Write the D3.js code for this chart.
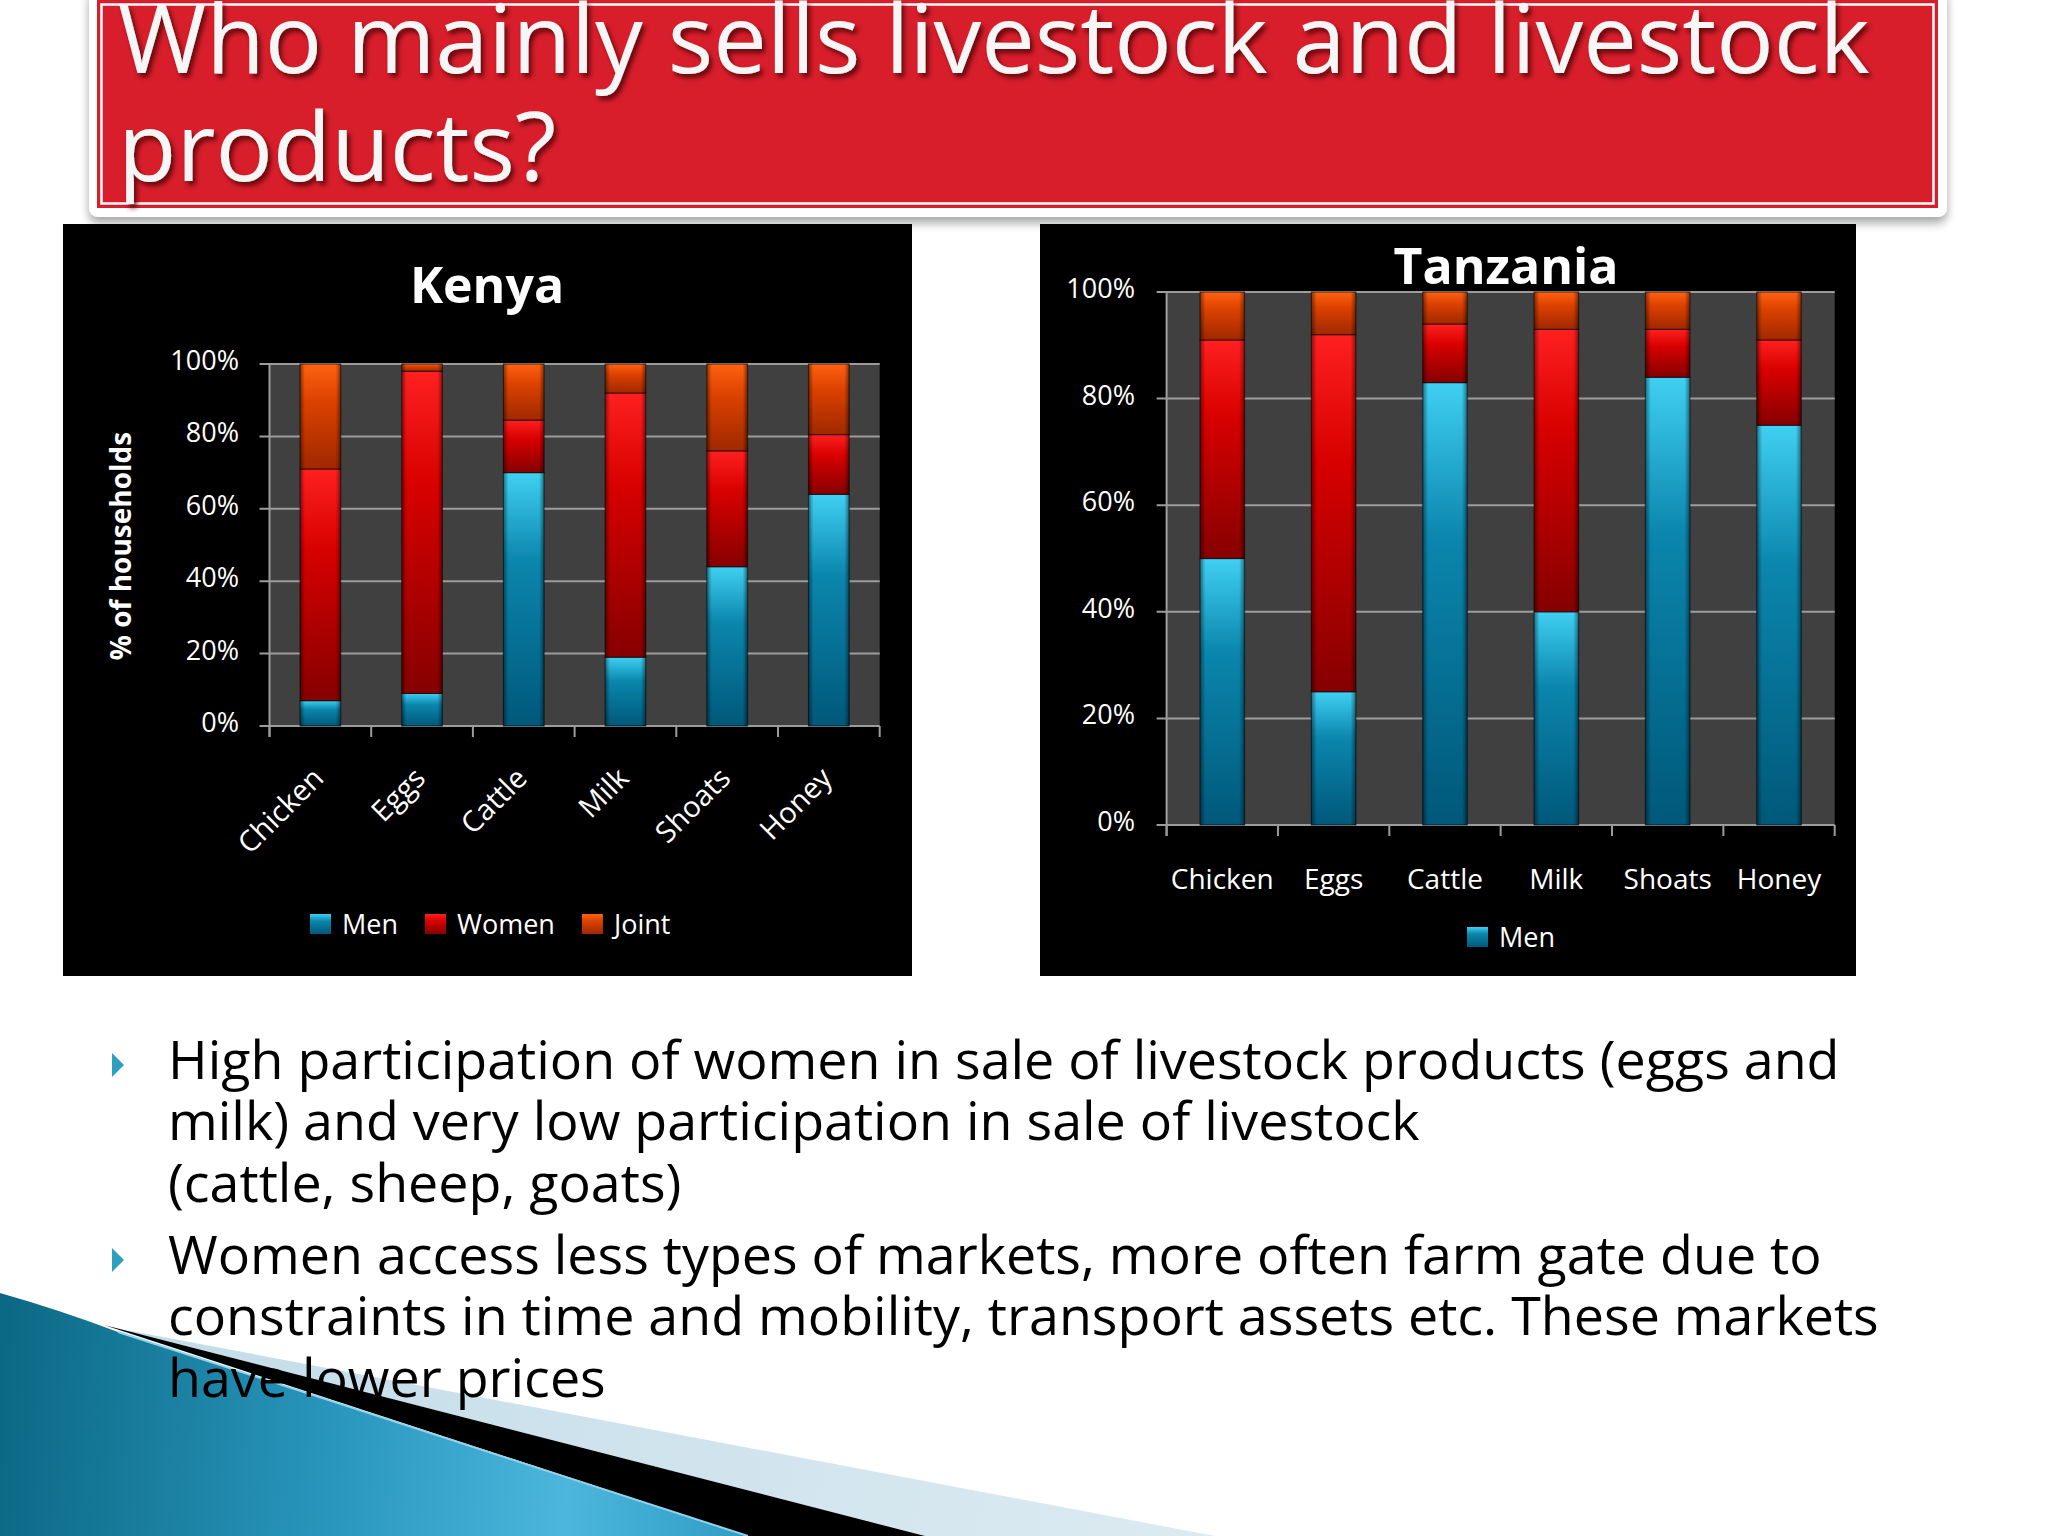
<!DOCTYPE html>
<html>
<head>
<meta charset="utf-8">
<script src="https://cdn.jsdelivr.net/npm/d3@7"></script>
<style>
  html, body { margin: 0; padding: 0; background: #ffffff; }
  svg { display: block; }
</style>
</head>
<body>
<div id="chart"></div>
<script>
// ---------------- DATA ----------------
const categories = ["Chicken", "Eggs", "Cattle", "Milk", "Shoats", "Honey"];
const seriesNames = ["Men", "Women", "Joint"];

const kenyaMen   = [7, 9, 70, 19, 44, 64];
const kenyaWomen = [64, 89, 14.5, 73, 32, 16.5];
const kenyaJoint = [29, 2, 15.5, 8, 24, 19.5];

const tanzaniaMen   = [50, 25, 83, 40, 84, 75];
const tanzaniaWomen = [41, 67, 11, 53, 9, 16];
const tanzaniaJoint = [9, 8, 6, 7, 7, 9];

const yTickValues = [0, 20, 40, 60, 80, 100];
const yTickLabels = ["0%", "20%", "40%", "60%", "80%", "100%"];

const slideTitle = ["Who mainly sells livestock and livestock", "products?"];
const bullet1 = ["High participation of women in sale of livestock products (eggs and",
                 "milk) and very low participation in sale of livestock",
                 "(cattle, sheep, goats)"];
const bullet2 = ["Women access less types of markets, more often farm gate due to",
                 "constraints in time and mobility, transport assets etc. These markets",
                 "have lower prices"];

// ---------------- SETUP ----------------
const W = 2048, H = 1536;
const FONT = "'Open Sans', 'DejaVu Sans', sans-serif";
const svg = d3.select("#chart").append("svg").attr("width", W).attr("height", H);
const defs = svg.append("defs");

svg.append("rect").attr("width", W).attr("height", H).attr("fill", "#ffffff");

// gradients for series
const seriesColors = {
  Men:   ["#3fd0f2", "#0b86ad", "#00587a"],
  Women: ["#ff2020", "#d80000", "#860000"],
  Joint: ["#ff6212", "#dd4200", "#a02800"]
};
seriesNames.forEach(s => {
  const g = defs.append("linearGradient").attr("id", "grad-" + s)
    .attr("x1", 0).attr("y1", 0).attr("x2", 0).attr("y2", 1);
  g.append("stop").attr("offset", "0%").attr("stop-color", seriesColors[s][0]);
  g.append("stop").attr("offset", "35%").attr("stop-color", seriesColors[s][1]);
  g.append("stop").attr("offset", "100%").attr("stop-color", seriesColors[s][2]);
});
const edge = defs.append("linearGradient").attr("id", "edgeShade")
  .attr("x1", 0).attr("y1", 0).attr("x2", 1).attr("y2", 0);
[[0, 0.45], [0.12, 0], [0.88, 0], [1, 0.45]].forEach(([o, a]) =>
  edge.append("stop").attr("offset", o).attr("stop-color", "#000").attr("stop-opacity", a));

const textShadow = defs.append("filter").attr("id", "textShadow")
  .attr("x", "-10%").attr("y", "-20%").attr("width", "120%").attr("height", "150%");
textShadow.append("feDropShadow").attr("dx", 3).attr("dy", 4).attr("stdDeviation", 2.5)
  .attr("flood-color", "#3a0000").attr("flood-opacity", 0.75);

const cardShadow = defs.append("filter").attr("id", "cardShadow")
  .attr("x", "-5%").attr("y", "-10%").attr("width", "110%").attr("height", "130%");
cardShadow.append("feDropShadow").attr("dx", 0).attr("dy", 6).attr("stdDeviation", 5)
  .attr("flood-color", "#000").attr("flood-opacity", 0.35);

// ---------------- BOTTOM DECORATION ----------------
const tealGrad = defs.append("linearGradient").attr("id", "tealGrad")
  .attr("gradientUnits", "userSpaceOnUse").attr("x1", 0).attr("y1", 1400).attr("x2", 760).attr("y2", 1450);
tealGrad.append("stop").attr("offset", "0%").attr("stop-color", "#0c6985");
tealGrad.append("stop").attr("offset", "45%").attr("stop-color", "#2a97be");
tealGrad.append("stop").attr("offset", "75%").attr("stop-color", "#4cb6dc");
tealGrad.append("stop").attr("offset", "100%").attr("stop-color", "#2f9cc4");
const paleGrad = defs.append("linearGradient").attr("id", "paleGrad")
  .attr("gradientUnits", "userSpaceOnUse").attr("x1", 150).attr("y1", 1340).attr("x2", 1200).attr("y2", 1536);
paleGrad.append("stop").attr("offset", "0%").attr("stop-color", "#c3dde9");
paleGrad.append("stop").attr("offset", "100%").attr("stop-color", "#dceaf1");

const deco = svg.append("g");
deco.append("path").attr("d", "M110,1327 L1215,1536 L925,1536 Z").attr("fill", "url(#paleGrad)");
deco.append("path").attr("d", "M104,1325 L925,1536 L748,1536 Z").attr("fill", "#000");
deco.append("path").attr("d", "M0,1293 Q60,1310 118,1332 L748,1536 L0,1536 Z").attr("fill", "url(#tealGrad)");
deco.append("path").attr("d", "M118,1332 L748,1536").attr("stroke", "#8fd3ec").attr("stroke-width", 2).attr("fill", "none");

// ---------------- TITLE CARD ----------------
svg.append("rect").attr("x", 89).attr("y", -12).attr("width", 1858).attr("height", 229)
  .attr("rx", 9).attr("fill", "#ffffff").attr("filter", "url(#cardShadow)");
svg.append("rect").attr("x", 97).attr("y", 0).attr("width", 1841).attr("height", 208)
  .attr("fill", "#d91e2b");
svg.append("rect").attr("x", 101.5).attr("y", 4.5).attr("width", 1832).attr("height", 199)
  .attr("fill", "none").attr("stroke", "#ffffff").attr("stroke-width", 2.5);

const titleG = svg.append("g").attr("filter", "url(#textShadow)");
const titleTexts = titleG.selectAll("text").data(slideTitle).join("text")
  .attr("x", 118).attr("y", (d, i) => 73 + i * 108)
  .attr("font-family", FONT).attr("font-size", 92)
  .attr("fill", "#f6f6f6").text(d => d);
{
  const w0 = titleTexts.nodes()[0].getComputedTextLength();
  const fs = 92 * 1752 / w0;
  titleTexts.attr("font-size", fs);
}

// ---------------- CHART FUNCTION ----------------
function drawChart(cfg) {
  const g = svg.append("g");
  g.append("rect").attr("x", cfg.panel[0]).attr("y", cfg.panel[1])
    .attr("width", cfg.panel[2]).attr("height", cfg.panel[3]).attr("fill", "#000");

  const rows = categories.map((c, i) => ({ cat: c, Men: cfg.men[i], Women: cfg.women[i], Joint: cfg.joint[i] }));
  const stacked = d3.stack().keys(seriesNames)(rows);

  const x = d3.scaleBand().domain(categories).range([cfg.x0, cfg.x1]).padding(0);
  const y = d3.scaleLinear().domain([0, 100]).range([cfg.yBottom, cfg.yTop]);
  const bw = x.bandwidth() * cfg.barFrac;

  // plot background
  g.append("rect").attr("x", cfg.x0).attr("y", y(100))
    .attr("width", cfg.x1 - cfg.x0).attr("height", y(0) - y(100)).attr("fill", "#404040");

  // gridlines
  g.selectAll("line.grid").data(yTickValues).join("line")
    .attr("x1", cfg.x0 - 10).attr("x2", cfg.x1)
    .attr("y1", d => y(d)).attr("y2", d => y(d))
    .attr("stroke", "#9c9c9c").attr("stroke-width", 2);

  // y axis line
  g.append("line").attr("x1", cfg.x0).attr("x2", cfg.x0)
    .attr("y1", y(100)).attr("y2", y(0) + 11).attr("stroke", "#9c9c9c").attr("stroke-width", 2);
  // x ticks at band boundaries
  const bounds = categories.map(c => x(c)).concat([cfg.x1]);
  g.selectAll("line.xt").data(bounds).join("line")
    .attr("x1", d => d).attr("x2", d => d)
    .attr("y1", y(0)).attr("y2", y(0) + 11)
    .attr("stroke", "#9c9c9c").attr("stroke-width", 2);

  // y tick labels
  g.selectAll("text.yl").data(yTickValues).join("text")
    .attr("x", cfg.yLabelX).attr("y", d => y(d)).attr("dy", "0.22em")
    .attr("text-anchor", "end").attr("fill", "#ffffff")
    .attr("font-family", FONT).attr("font-size", 27)
    .text((d, i) => yTickLabels[i]);

  // bars
  stacked.forEach(layer => {
    const s = layer.key;
    const lg = g.append("g");
    lg.selectAll("rect.bar").data(layer).join("rect")
      .attr("x", d => x(d.data.cat) + (x.bandwidth() - bw) / 2)
      .attr("y", d => y(d[1]))
      .attr("width", bw)
      .attr("height", d => Math.max(0, y(d[0]) - y(d[1])))
      .attr("fill", "url(#grad-" + s + ")")
      .attr("stroke", "rgba(0,0,0,0.55)").attr("stroke-width", 1.2);
    lg.selectAll("rect.shade").data(layer).join("rect")
      .attr("x", d => x(d.data.cat) + (x.bandwidth() - bw) / 2)
      .attr("y", d => y(d[1]))
      .attr("width", bw)
      .attr("height", d => Math.max(0, y(d[0]) - y(d[1])))
      .attr("fill", "url(#edgeShade)");
  });

  // x labels
  if (cfg.rotateLabels) {
    g.selectAll("text.xl").data(categories).join("text")
      .attr("transform", d => `translate(${x(d) + x.bandwidth() / 2 + 5},${y(0) + 54}) rotate(-45)`)
      .attr("text-anchor", "end").attr("fill", "#ffffff")
      .attr("font-family", FONT).attr("font-size", 29).text(d => d);
  } else {
    g.selectAll("text.xl").data(categories).join("text")
      .attr("x", d => x(d) + x.bandwidth() / 2).attr("y", cfg.xLabelY)
      .attr("text-anchor", "middle").attr("fill", "#ffffff")
      .attr("font-family", FONT).attr("font-size", 28).text(d => d);
  }

  // title
  g.append("text").attr("x", cfg.titlePos[0]).attr("y", cfg.titlePos[1])
    .attr("text-anchor", "middle").attr("fill", "#ffffff")
    .attr("font-family", FONT).attr("font-weight", 700).attr("font-size", 50)
    .text(cfg.title);

  // y title
  if (cfg.yTitle) {
    g.append("text").attr("transform", `translate(${cfg.yTitlePos[0]},${cfg.yTitlePos[1]}) rotate(-90)`)
      .attr("text-anchor", "middle").attr("fill", "#ffffff")
      .attr("font-family", FONT).attr("font-weight", 700).attr("font-size", 28)
      .text(cfg.yTitle);
  }

  // legend
  let lx = cfg.legendX;
  cfg.legendKeys.forEach(k => {
    g.append("rect").attr("x", lx).attr("y", cfg.legendY - 10).attr("width", 21).attr("height", 20)
      .attr("fill", "url(#grad-" + k + ")");
    const t = g.append("text").attr("x", lx + 32).attr("y", cfg.legendY).attr("dy", "0.36em")
      .attr("fill", "#ffffff").attr("font-family", FONT).attr("font-size", 27).text(k);
    lx += 32 + t.node().getComputedTextLength() + 27;
  });
}

drawChart({
  title: "Kenya", titlePos: [487, 303],
  panel: [63, 224, 849, 752],
  men: kenyaMen, women: kenyaWomen, joint: kenyaJoint,
  x0: 269.5, x1: 879.7, yTop: 364, yBottom: 726, barFrac: 0.4,
  yLabelX: 239, rotateLabels: true,
  yTitle: "% of households", yTitlePos: [131, 546],
  legendKeys: ["Men", "Women", "Joint"], legendX: 310, legendY: 924
});

drawChart({
  title: "Tanzania", titlePos: [1506, 284],
  panel: [1040, 224, 816, 752],
  men: tanzaniaMen, women: tanzaniaWomen, joint: tanzaniaJoint,
  x0: 1166.6, x1: 1834.7, yTop: 292, yBottom: 825, barFrac: 0.4,
  yLabelX: 1135, rotateLabels: false, xLabelY: 889,
  legendKeys: ["Men"], legendX: 1467, legendY: 937
});

// ---------------- BULLETS ----------------
const bulletG = svg.append("g");
const bulletBlocks = [{ lines: bullet1, y0: 1079 }, { lines: bullet2, y0: 1274 }];
const allText = [];
bulletBlocks.forEach((b, bi) => {
  bulletG.append("path")
    .attr("d", `M112,${b.y0 - 26} L124,${b.y0 - 14} L112,${b.y0 - 2} Z`)
    .attr("fill", "#2f9fc0");
  b.lines.forEach((ln, li) => {
    const t = bulletG.append("text").attr("x", 168).attr("y", b.y0 + li * 61.3)
      .attr("font-family", FONT).attr("font-size", 54).attr("fill", "#000").text(ln);
    allText.push(t);
  });
});
{
  const w0 = allText[0].node().getComputedTextLength();
  const fs = 54 * 1672 / w0;
  allText.forEach(t => t.attr("font-size", fs));
}
</script>
</body>
</html>
